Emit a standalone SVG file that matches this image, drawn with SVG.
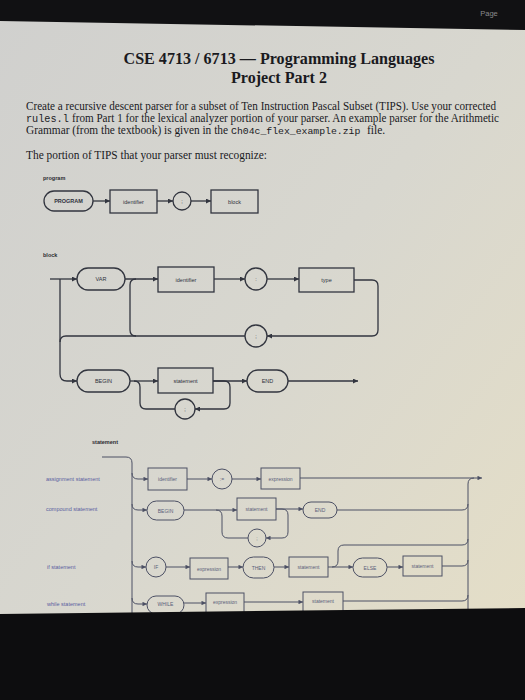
<svg xmlns="http://www.w3.org/2000/svg" width="525" height="700" viewBox="0 0 525 700">
<defs>
<linearGradient id="bg" x1="0" y1="0" x2="1" y2="1">
<stop offset="0" stop-color="#d0d0ce"/>
<stop offset="0.5" stop-color="#d8d7cf"/>
<stop offset="1" stop-color="#e6dfc6"/>
</linearGradient>
<marker id="ah" viewBox="0 0 10 10" refX="10" refY="5" markerWidth="7" markerHeight="5" orient="auto" markerUnits="userSpaceOnUse">
<path d="M0,0 L10,5 L0,10 z" fill="#32353f"/>
</marker>
<marker id="ah2" viewBox="0 0 10 10" refX="10" refY="5" markerWidth="7" markerHeight="4.5" orient="auto" markerUnits="userSpaceOnUse">
<path d="M0,0 L10,5 L0,10 z" fill="#4c5064"/>
</marker>
<style>
.doc{font-family:"Liberation Serif","Times New Roman",serif;fill:#1a1a1e}
.mono{font-family:"Liberation Mono","Courier New",monospace;fill:#1a1a1e}
.n{fill:none;stroke:#32353f;stroke-width:1.3}
.n2{fill:none;stroke:#4c5064;stroke-width:1}
.c{fill:none;stroke:#32353f;stroke-width:1.3;marker-end:url(#ah)}
.cn{fill:none;stroke:#32353f;stroke-width:1.3}
.c2{fill:none;stroke:#4c5064;stroke-width:1;marker-end:url(#ah2)}
.cn2{fill:none;stroke:#4c5064;stroke-width:1}
.t{font-family:"Liberation Sans",Arial,sans-serif;font-size:5.5px;fill:#2e303c;text-anchor:middle;dominant-baseline:central}
.t2{font-family:"Liberation Sans",Arial,sans-serif;font-size:5px;fill:#5a5e7a;text-anchor:middle;dominant-baseline:central}
.lbl{font-family:"Liberation Sans",Arial,sans-serif;font-size:5.5px;font-weight:bold;fill:#2a2a30}
.lbl2{font-family:"Liberation Sans",Arial,sans-serif;font-size:5.5px;fill:#5a60a0}
</style>
</defs>
<rect x="0" y="0" width="525" height="700" fill="url(#bg)"/>
<polygon points="0,0 525,0 525,30 0,21" fill="#111113"/>
<text x="489" y="16" font-family="Liberation Sans, Arial, sans-serif" font-size="7.5" fill="#8a8a8c" text-anchor="middle">Page</text>

<g id="header">
<text class="doc" x="279" y="64" font-size="16" font-weight="bold" text-anchor="middle" textLength="311" lengthAdjust="spacingAndGlyphs">CSE 4713 / 6713 — Programming Languages</text>
<text class="doc" x="279" y="83" font-size="16" font-weight="bold" text-anchor="middle" textLength="96" lengthAdjust="spacingAndGlyphs">Project Part 2</text>
<text class="doc" x="26" y="110" font-size="11.5" textLength="470" lengthAdjust="spacingAndGlyphs">Create a recursive descent parser for a subset of Ten Instruction Pascal Subset (TIPS). Use your corrected</text>
<text class="doc" y="122" font-size="11.5"><tspan class="mono" x="26" font-size="10.2">rules.l</tspan><tspan x="72" textLength="427" lengthAdjust="spacingAndGlyphs">from Part 1 for the lexical analyzer portion of your parser. An example parser for the Arithmetic</tspan></text>
<text class="doc" y="134" font-size="11.5"><tspan x="26" textLength="202" lengthAdjust="spacingAndGlyphs">Grammar (from the textbook) is given in the</tspan><tspan class="mono" x="231" font-size="9.8">Ch04c_flex_example.zip</tspan><tspan x="367">file.</tspan></text>
<text class="doc" x="26" y="159" font-size="11.5" textLength="241" lengthAdjust="spacingAndGlyphs">The portion of TIPS that your parser must recognize:</text>
</g>

<g id="labels">
<text class="lbl" x="43" y="180">program</text>
<text class="lbl" x="43" y="257">block</text>
<text class="lbl" x="92" y="444">statement</text>
<text class="lbl2" x="46" y="481">assignment statement</text>
<text class="lbl2" x="46" y="511">compound statement</text>
<text class="lbl2" x="47" y="569">if statement</text>
<text class="lbl2" x="47" y="606">while statement</text>
</g>

<g id="connectors">
<path class="c" d="M93,201 H110"/>
<path class="c" d="M157,201 H173"/>
<path class="c" d="M191,201 H211"/>
<path class="c" d="M50,279 H77"/>
<path class="c" d="M60,279 V374 Q60,381 67,381 H77"/>
<path class="c" d="M125,279 H158"/>
<path class="c" d="M214,279 H245"/>
<path class="c" d="M267,279 H299"/>
<path class="c" d="M354,280 H372 Q378,280 378,286 V330 Q378,336 372,336 H267"/>
<path class="cn" d="M245,336 H66 Q60,336 60,342"/>
<path class="cn" d="M136,336 Q130,336 130,330 V285 Q130,279 136,279"/>
<path class="c" d="M130,381 H158"/>
<path class="cn" d="M134,381 Q140,381 140,387 V403 Q140,409 146,409 H175"/>
<path class="c" d="M213,381 H224 Q230,381 230,387 V403 Q230,409 224,409 H195"/>
<path class="c" d="M213,381 H247"/>
<path class="c" d="M288,381 H358"/>
<path class="cn2" d="M102,457 H126 Q132,457 132,463 V620"/>
<path class="c2" d="M132,473 Q132,479 138,479 H148"/>
<path class="c2" d="M187,479 H212"/>
<path class="c2" d="M232,479 H261"/>
<path class="c2" d="M300,478 H482"/>
<path class="cn2" d="M468,620 V484 Q468,478 474,478"/>
<path class="c2" d="M132,504 Q132,510 138,510 H147"/>
<path class="c2" d="M184,510 H237"/>
<path class="cn2" d="M216,510 Q222,510 222,516 V532 Q222,538 228,538 H248"/>
<path class="c2" d="M276,509 H282 Q288,509 288,515 V532 Q288,538 282,538 H266"/>
<path class="c2" d="M276,509 H303"/>
<path class="cn2" d="M337,510 H462 Q468,510 468,504"/>
<path class="c2" d="M132,561 Q132,567 138,567 H146"/>
<path class="c2" d="M166,567 H190"/>
<path class="c2" d="M228,567 H243"/>
<path class="c2" d="M274,567 H289"/>
<path class="c2" d="M328,567 H353"/>
<path class="cn2" d="M332,567 Q338,567 338,561 V551 Q338,545 344,545 H462 Q468,545 468,539"/>
<path class="c2" d="M387,567 H403"/>
<path class="cn2" d="M442,566 H462 Q468,566 468,560"/>
<path class="c2" d="M132,598 Q132,604 138,604 H147"/>
<path class="c2" d="M184,603 H206"/>
<path class="c2" d="M244,602 H303"/>
<path class="cn2" d="M343,601 H462 Q468,601 468,595"/>
</g>

<g id="p_program"><rect class="n" x="44" y="191" width="49" height="20" rx="10"/><text class="t" x="68.5" y="201" font-weight="bold" font-size="6.5">PROGRAM</text></g>
<g id="p_identifier"><rect class="n" x="110" y="190" width="47" height="23"/><text class="t" x="133.5" y="201.5">identifier</text></g>
<g id="p_semicolon"><circle class="n" cx="182" cy="201" r="9"/><text class="t" x="182" y="201" font-size="7">;</text></g>
<g id="p_block"><rect class="n" x="211" y="190" width="47" height="23"/><text class="t" x="234.5" y="201.5">block</text></g>

<g id="b_var"><rect class="n" x="77" y="268" width="48" height="22" rx="11"/><text class="t" x="101" y="279" font-size="6.5">VAR</text></g>
<g id="b_identifier"><rect class="n" x="158" y="267" width="56" height="25"/><text class="t" x="186" y="279.5">identifier</text></g>
<g id="b_colon"><circle class="n" cx="256" cy="279" r="11"/><text class="t" x="256" y="279" font-size="7">:</text></g>
<g id="b_type"><rect class="n" x="299" y="268" width="55" height="24"/><text class="t" x="326.5" y="280">type</text></g>
<g id="b_semicolon"><circle class="n" cx="256" cy="336" r="11"/><text class="t" x="256" y="336" font-size="7">;</text></g>
<g id="b_begin"><rect class="n" x="77" y="370" width="53" height="22" rx="11"/><text class="t" x="103.5" y="381" font-size="6.5">BEGIN</text></g>
<g id="b_statement"><rect class="n" x="158" y="368" width="55" height="25"/><text class="t" x="185.5" y="380.5">statement</text></g>
<g id="b_semicolon2"><circle class="n" cx="185" cy="409" r="10"/><text class="t" x="185" y="409" font-size="7">;</text></g>
<g id="b_end"><rect class="n" x="247" y="370" width="41" height="22" rx="11"/><text class="t" x="267.5" y="381" font-size="6.5">END</text></g>

<g id="s_identifier"><rect class="n2" x="148" y="468" width="39" height="22"/><text class="t2" x="167.5" y="479">identifier</text></g>
<g id="s_assign"><circle class="n2" cx="222" cy="479" r="10"/><text class="t2" x="222" y="479">:=</text></g>
<g id="s_expression1"><rect class="n2" x="261" y="468" width="39" height="21"/><text class="t2" x="280.5" y="478.5">expression</text></g>
<g id="s_begin"><rect class="n2" x="147" y="501" width="37" height="19" rx="9.5"/><text class="t2" x="165.5" y="510.5">BEGIN</text></g>
<g id="s_statement1"><rect class="n2" x="237" y="498" width="39" height="22"/><text class="t2" x="256.5" y="509">statement</text></g>
<g id="s_semicolon"><circle class="n2" cx="257" cy="538" r="9"/><text class="t2" x="257" y="538" font-size="6">;</text></g>
<g id="s_end"><rect class="n2" x="303" y="502" width="34" height="16" rx="8"/><text class="t2" x="320" y="510">END</text></g>
<g id="s_if"><circle class="n2" cx="156" cy="567" r="10"/><text class="t2" x="156" y="567">IF</text></g>
<g id="s_expression2"><rect class="n2" x="190" y="558" width="38" height="21"/><text class="t2" x="209" y="568.5">expression</text></g>
<g id="s_then"><rect class="n2" x="243" y="557" width="31" height="21" rx="10.5"/><text class="t2" x="258.5" y="567.5">THEN</text></g>
<g id="s_statement2"><rect class="n2" x="289" y="557" width="39" height="20"/><text class="t2" x="308.5" y="567">statement</text></g>
<g id="s_else"><rect class="n2" x="353" y="558" width="34" height="19" rx="9.5"/><text class="t2" x="370" y="567.5">ELSE</text></g>
<g id="s_statement3"><rect class="n2" x="403" y="556" width="39" height="20"/><text class="t2" x="422.5" y="566">statement</text></g>
<g id="s_while"><rect class="n2" x="147" y="596" width="37" height="18" rx="9"/><text class="t2" x="165.5" y="604">WHILE</text></g>
<g id="s_expression3"><rect class="n2" x="206" y="593" width="38" height="22"/><text class="t2" x="225" y="602">expression</text></g>
<g id="s_statement4"><rect class="n2" x="303" y="592" width="40" height="23"/><text class="t2" x="323" y="601">statement</text></g>

<polygon points="0,614 525,608 525,700 0,700" fill="#0d0d0f"/>
</svg>
